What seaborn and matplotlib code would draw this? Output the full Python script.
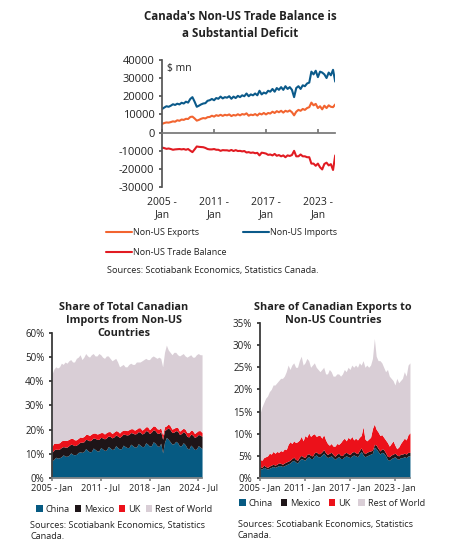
import numpy as np
import pandas as pd
import seaborn as sns
import matplotlib.pyplot as plt
import matplotlib.ticker as mticker

# ---------------- data (quarterly readings, $ mn and % shares) ----------------
quarters = pd.date_range("2005-01-01", "2025-01-01", freq="QS")

nonus_imports = [
    13000, 13800, 14500, 14200, 14800, 15600, 15200, 15900, 15500, 16400, 16000, 17000,
    16500, 18500, 19500, 17000, 14200, 14800, 15500, 16000, 16200, 17500, 17800, 18500,
    17800, 19000, 18600, 19800, 18800, 19500, 19200, 20000, 18600, 19800, 19000, 20200,
    19500, 20500, 20000, 21500, 20000, 21000, 20500, 21500, 20500, 23000, 21000, 22000,
    21500, 23000, 22500, 24000, 22500, 24500, 23500, 25000, 23500, 25500, 24000, 25000,
    23500, 19500, 24500, 25500, 24000, 26000, 25500, 27000, 27500, 33500, 32000, 34000,
    30500, 33500, 33000, 32000, 30000, 33000, 31500, 34500, 28000,
]
nonus_exports = [
    4800, 5300, 5600, 5500, 5800, 6200, 6000, 6800, 6500, 7200, 7000, 7600,
    7500, 8600, 8800, 7800, 6600, 7000, 7600, 8000, 7800, 8500, 8600, 9300,
    8800, 9600, 9200, 9800, 9200, 9800, 9500, 10000, 9100, 9700, 9400, 10100,
    9500, 10200, 9900, 10600, 9300, 9900, 9600, 10200, 9400, 10500, 10000, 10800,
    10000, 10800, 10500, 11500, 10800, 11800, 11200, 12000, 11000, 12000, 11500, 12200,
    11200, 9500, 11500, 12500, 12000, 13000, 12500, 13500, 14000, 16500, 15000, 15800,
    13500, 14500, 12800, 14800, 13500, 15000, 14200, 14000, 15500,
]

imp_china = [
    7.0, 7.8, 8.6, 8.2, 8.4, 8.8, 9.6, 9.0, 9.0, 9.4, 10.4, 9.8,
    9.6, 9.8, 10.6, 10.8, 10.6, 11.0, 12.2, 11.4, 10.8, 11.0, 12.4, 11.8,
    11.2, 11.2, 12.6, 12.0, 11.4, 11.6, 13.0, 12.4, 11.8, 12.0, 13.4, 12.6,
    12.0, 12.2, 13.6, 13.0, 12.6, 12.6, 14.0, 13.4, 12.8, 12.8, 14.2, 13.6,
    13.0, 13.0, 14.6, 14.0, 13.2, 13.4, 15.0, 14.4, 13.4, 13.0, 14.4, 10.4,
    14.8, 16.8, 16.0, 15.0, 14.0, 14.2, 15.2, 14.6, 13.2, 13.4, 14.6, 13.8,
    12.4, 12.0, 13.6, 12.8, 11.8, 12.0, 13.4, 12.8, 12.2,
]
imp_mexico = [
    3.6, 3.8, 3.4, 3.6, 3.6, 3.8, 3.4, 3.8, 3.8, 4.0, 3.6, 4.0,
    3.8, 3.8, 3.6, 4.0, 4.2, 4.0, 3.8, 4.4, 4.6, 4.8, 4.2, 4.6,
    4.8, 4.8, 4.2, 4.6, 4.8, 5.0, 4.4, 4.8, 4.8, 5.0, 4.4, 4.8,
    4.8, 5.2, 4.6, 5.0, 5.2, 5.4, 4.8, 5.2, 5.4, 5.6, 5.0, 5.4,
    5.2, 5.6, 5.0, 5.4, 5.2, 5.6, 5.0, 5.2, 5.2, 5.4, 4.8, 5.6,
    4.8, 3.4, 4.8, 5.0, 4.8, 4.8, 4.4, 4.8, 4.8, 5.0, 4.6, 4.8,
    4.8, 5.0, 4.6, 5.0, 5.0, 5.2, 4.6, 5.0, 5.0,
]
imp_uk = [
    2.6, 2.8, 2.4, 2.6, 2.6, 2.8, 2.6, 2.8, 2.8, 2.6, 2.4, 2.6,
    2.4, 2.2, 2.2, 2.2, 2.0, 2.2, 2.0, 2.2, 2.2, 2.4, 2.0, 2.2,
    2.2, 2.4, 2.0, 2.2, 2.0, 2.2, 1.8, 2.0, 1.8, 2.0, 1.8, 2.0,
    1.8, 2.0, 1.6, 1.8, 1.8, 2.0, 1.6, 1.8, 1.6, 1.8, 1.6, 1.8,
    1.6, 1.8, 1.6, 1.8, 1.6, 1.8, 1.6, 1.8, 1.8, 1.8, 1.6, 1.8,
    1.6, 1.4, 1.6, 1.6, 1.4, 1.6, 1.4, 1.6, 1.4, 1.6, 1.4, 1.6,
    1.6, 1.8, 1.6, 1.8, 1.6, 1.8, 1.6, 1.8, 1.6,
]
imp_rest = [
    29.8, 30.6, 31.6, 31.1, 31.4, 32.1, 31.4, 32.4, 31.9, 32.5, 32.6, 31.6,
    32.2, 33.7, 33.6, 34.0, 32.2, 32.8, 33.5, 32.5, 32.4, 32.8, 32.9, 31.9,
    32.3, 33.1, 32.2, 31.2, 31.3, 31.7, 31.3, 30.3, 30.1, 30.0, 29.9, 28.6,
    27.4, 27.1, 27.2, 26.2, 26.4, 27.0, 27.1, 26.6, 27.2, 27.8, 27.2, 27.2,
    28.7, 28.6, 28.3, 27.8, 29.0, 29.2, 28.9, 28.6, 29.1, 29.8, 28.7, 28.2,
    30.8, 33.4, 30.6, 30.4, 30.8, 31.4, 31.0, 30.0, 31.1, 31.0, 30.9, 30.3,
    31.2, 31.7, 31.2, 30.4, 31.6, 32.0, 31.9, 31.4, 32.2,
]

exp_china = [
    2.2, 2.0, 2.4, 2.2, 2.0, 2.2, 2.4, 2.6, 2.4, 2.6, 2.8, 2.8,
    2.6, 2.8, 3.0, 3.2, 3.4, 3.8, 4.0, 3.6, 3.4, 4.0, 4.4, 4.2,
    4.0, 4.6, 4.8, 4.4, 4.4, 5.0, 5.2, 4.8, 4.8, 5.2, 5.6, 5.0,
    4.6, 4.8, 5.0, 4.6, 4.2, 4.6, 4.8, 4.4, 4.4, 4.8, 5.0, 4.8,
    4.6, 5.0, 5.2, 5.0, 4.8, 5.4, 6.0, 5.2, 4.8, 5.0, 5.2, 5.4,
    5.6, 7.0, 6.6, 6.0, 5.4, 5.8, 5.6, 5.0, 4.2, 4.0, 4.4, 4.6,
    4.8, 4.4, 4.2, 4.6, 4.6, 4.8, 4.6, 5.0, 5.0,
]
exp_mexico = [
    0.4, 0.4, 0.5, 0.4, 0.4, 0.5, 0.5, 0.5, 0.5, 0.5, 0.6, 0.5,
    0.5, 0.6, 0.6, 0.6, 0.6, 0.6, 0.7, 0.6, 0.6, 0.7, 0.7, 0.6,
    0.6, 0.7, 0.7, 0.7, 0.6, 0.7, 0.7, 0.7, 0.7, 0.7, 0.8, 0.7,
    0.7, 0.8, 0.8, 0.7, 0.7, 0.8, 0.8, 0.7, 0.7, 0.8, 0.8, 0.7,
    0.7, 0.8, 0.8, 0.7, 0.7, 0.8, 0.8, 0.7, 0.7, 0.8, 0.8, 0.7,
    0.7, 0.6, 0.8, 0.7, 0.7, 0.8, 0.8, 0.7, 0.7, 0.8, 0.8, 0.8,
    0.8, 0.8, 0.8, 0.8, 0.8, 0.8, 0.8, 0.8, 0.8,
]
exp_uk = [
    1.6, 1.6, 1.7, 2.2, 2.6, 2.9, 2.5, 2.9, 2.7, 2.9, 2.4, 2.9,
    2.9, 3.2, 2.8, 3.8, 4.2, 3.4, 3.7, 3.8, 4.2, 3.9, 4.3, 3.6,
    5.0, 3.9, 4.7, 4.3, 4.8, 4.3, 3.5, 4.1, 4.1, 3.1, 3.4, 2.9,
    2.5, 1.8, 2.0, 1.9, 2.3, 2.4, 2.0, 2.9, 3.5, 3.4, 2.6, 3.7,
    3.5, 3.6, 2.6, 3.3, 3.1, 3.0, 2.8, 5.7, 3.3, 2.6, 2.8, 3.1,
    4.9, 4.6, 3.6, 3.7, 3.5, 3.2, 2.8, 2.9, 3.1, 2.4, 2.6, 3.0,
    1.8, 1.4, 2.0, 2.4, 3.0, 3.4, 3.2, 4.0, 4.4,
]
exp_rest = [
    10.3, 12.0, 12.4, 13.2, 13.5, 13.9, 14.6, 15.0, 15.4, 15.5, 16.2, 16.3,
    16.5, 16.4, 17.6, 17.9, 16.3, 17.7, 17.6, 17.0, 16.8, 17.9, 18.1, 17.1,
    16.4, 17.8, 16.3, 15.6, 15.7, 16.0, 15.6, 14.9, 14.4, 15.5, 15.2, 14.9,
    15.7, 17.1, 16.2, 15.8, 15.8, 15.7, 15.9, 15.0, 14.9, 15.5, 15.6, 15.8,
    15.7, 16.1, 16.4, 16.5, 16.4, 16.8, 15.9, 14.9, 16.2, 17.1, 16.2, 16.3,
    15.8, 19.3, 16.5, 16.1, 16.9, 16.2, 15.8, 15.4, 16.5, 15.8, 14.7, 13.6,
    13.6, 15.9, 14.5, 14.2, 14.1, 15.0, 14.4, 15.7, 15.8,
]

share_labels = ["China", "Mexico", "UK", "Rest of World"]
share_colors = ["#065a82", "#1e1518", "#ec111a", "#d9ced6"]

# ---------------- style ----------------
sns.set_theme(style="ticks")
plt.rcParams["font.family"] = ["Open Sans", "DejaVu Sans"]
plt.rcParams["axes.unicode_minus"] = False
text_col = "#222222"

fig = plt.figure(figsize=(4.53, 5.59), dpi=100)
fig.patch.set_facecolor("white")

# ---------------- top chart: trade balance ----------------
df_top = pd.DataFrame({
    "date": quarters,
    "Non-US Exports": nonus_exports,
    "Non-US Imports": nonus_imports,
})
df_top["Non-US Trade Balance"] = df_top["Non-US Exports"] - df_top["Non-US Imports"]

ax1 = fig.add_axes([0.358, 0.665, 0.382, 0.228])
line_cols = {"Non-US Exports": "#f26430", "Non-US Imports": "#0b5a8a",
             "Non-US Trade Balance": "#e11b22"}
for name, col in line_cols.items():
    sns.lineplot(data=df_top, x="date", y=name, color=col, linewidth=1.5,
                 label=name, ax=ax1, legend=False)

ax1.set_xlim(quarters[0], quarters[-1])
ax1.set_ylim(-30000, 40000)
ax1.set_yticks(np.arange(-30000, 40001, 10000))
ax1.set_xlabel("")
ax1.set_ylabel("")
top_ticks = pd.to_datetime(["2005-01-01", "2011-01-01", "2017-01-01", "2023-01-01"])
ax1.set_xticks(top_ticks)
ax1.set_xticklabels(["2005 -\nJan", "2011 -\nJan", "2017 -\nJan", "2023 -\nJan"])
for s in ["top", "right"]:
    ax1.spines[s].set_visible(False)
ax1.spines["bottom"].set_position(("data", 0))
ax1.spines["bottom"].set_color("#777777")
ax1.spines["left"].set_color("#555555")
ax1.tick_params(axis="x", direction="in", length=3, pad=46, labelsize=7.5,
                colors="#777777", labelcolor=text_col)
ax1.tick_params(axis="y", direction="out", length=2, labelsize=8,
                colors="#555555", labelcolor=text_col)
ax1.text(0.03, 0.93, "$ mn", transform=ax1.transAxes, fontsize=7.5,
         color=text_col, va="center")

fig.text(0.53, 0.955, "Canada's Non-US Trade Balance is\na Substantial Deficit",
         ha="center", va="center", fontsize=8.3, fontweight="bold",
         color=text_col, linespacing=1.45)

h, l = ax1.get_legend_handles_labels()
order = [0, 2, 1]
fig.legend([h[i] for i in order], [l[i] for i in order], ncol=2,
           loc="upper left", bbox_to_anchor=(0.215, 1 - 220 / 559),
           frameon=False, fontsize=6.5, handlelength=2.9, handletextpad=0.1,
           columnspacing=1.9, labelspacing=1.2, labelcolor=text_col)
fig.text(107 / 453, 1 - 270 / 559,
         "Sources: Scotiabank Economics, Statistics Canada.",
         fontsize=6.6, color=text_col, va="center")


# ---------------- bottom charts: stacked shares ----------------
def share_chart(rect, series, ymax, ystep, ticks, ticklabels, title, title_xy):
    ax = fig.add_axes(rect)
    ax.stackplot(quarters, *series, colors=share_colors, labels=share_labels,
                 linewidth=0)
    ax.set_xlim(quarters[0], quarters[-1])
    ax.set_ylim(0, ymax)
    ax.set_yticks(np.arange(0, ymax + 0.1, ystep))
    ax.yaxis.set_major_formatter(mticker.FuncFormatter(lambda v, p: f"{v:.0f}%"))
    ax.set_xticks(pd.to_datetime(ticks))
    ax.set_xticklabels(ticklabels)
    for s in ["top", "right"]:
        ax.spines[s].set_visible(False)
    ax.spines["left"].set_color("#333333")
    ax.spines["bottom"].set_color("#888888")
    ax.tick_params(axis="x", length=2, labelsize=6.6, colors="#888888",
                   labelcolor=text_col, pad=2)
    ax.tick_params(axis="y", length=2, labelsize=7, colors="#333333",
                   labelcolor=text_col)
    fig.text(title_xy[0] / 453, 1 - title_xy[1] / 559, title, ha="center",
             va="center", fontsize=7.8, fontweight="bold", color=text_col,
             linespacing=1.3, zorder=5)
    return ax


ax2 = share_chart([0.1148, 0.1449, 0.3312, 0.2594],
                  [imp_china, imp_mexico, imp_uk, imp_rest], 60, 10,
                  ["2005-01-01", "2011-07-01", "2018-01-01", "2024-07-01"],
                  ["2005 - Jan", "2011 - Jul", "2018 - Jan", "2024 - Jul"],
                  "Share of Total Canadian\nImports from Non-US\nCountries",
                  (124, 320.5))
ax3 = share_chart([0.574, 0.1449, 0.331, 0.2773],
                  [exp_china, exp_mexico, exp_uk, exp_rest], 35, 5,
                  ["2005-01-01", "2011-01-01", "2017-01-01", "2023-01-01"],
                  ["2005 - Jan", "2011 - Jan", "2017 - Jan", "2023 - Jan"],
                  "Share of Canadian Exports to\nNon-US Countries",
                  (333, 314))

for ax, (lx, ly, cs) in [(ax2, (124, 509, 0.55)), (ax3, (332, 503, 0.9))]:
    ax.legend(loc="center", bbox_to_anchor=(lx / 453, 1 - ly / 559),
              bbox_transform=fig.transFigure, ncol=4, frameon=False,
              fontsize=6.6, handlelength=0.7, handleheight=0.7,
              handletextpad=0.3, columnspacing=cs, labelcolor=text_col)

fig.text(30 / 453, 1 - 531 / 559, "Sources: Scotiabank Economics, Statistics\nCanada.",
         fontsize=6.6, color=text_col, va="center", linespacing=1.2)
fig.text(238 / 453, 1 - 530 / 559, "Sources: Scotiabank Economics, Statistics\nCanada.",
         fontsize=6.6, color=text_col, va="center", linespacing=1.2)

fig.savefig("out.png", dpi=100, facecolor="white")
